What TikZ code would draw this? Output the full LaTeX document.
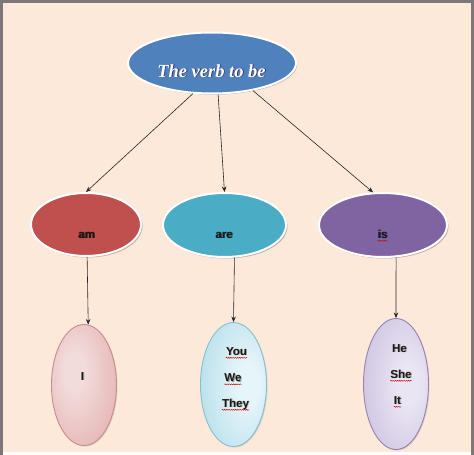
\documentclass[tikz,border=0pt]{standalone}
\usepackage{fontspec}
\setmainfont{Liberation Sans}
\newfontfamily\titlefont{Liberation Serif}
\usetikzlibrary{shapes.geometric,arrows.meta,shadows,decorations.pathmorphing}
\definecolor{bgpeach}{HTML}{FDE9D9}
\definecolor{framegray}{RGB}{125,120,120}
\definecolor{topblue}{HTML}{4F81BD}
\definecolor{amred}{HTML}{C0504D}
\definecolor{arecyan}{HTML}{4BACC6}
\definecolor{ispurple}{HTML}{8064A2}
\definecolor{iin}{HTML}{F2DBDB}
\definecolor{iout}{HTML}{DE9C9C}
\definecolor{iline}{HTML}{C48E8E}
\definecolor{yin}{HTML}{E6F5F9}
\definecolor{yout}{HTML}{98D1E1}
\definecolor{yline}{HTML}{86BFD0}
\definecolor{hin}{HTML}{EAE5F3}
\definecolor{hout}{HTML}{B9ABD4}
\definecolor{hline}{HTML}{9484AF}
\definecolor{titleshadow}{HTML}{3A3358}
\definecolor{wordshadow}{HTML}{9A9A9A}
\pgfdeclareradialshading{shI}{\pgfpoint{-8bp}{6bp}}{color(0bp)=(iin); color(8bp)=(iin); color(52bp)=(iout); color(100bp)=(iout)}
\pgfdeclareradialshading{shYou}{\pgfpoint{12bp}{0bp}}{color(0bp)=(yin); color(8bp)=(yin); color(55bp)=(yout); color(100bp)=(yout)}
\pgfdeclareradialshading{shHe}{\pgfpoint{10bp}{0bp}}{color(0bp)=(hin); color(8bp)=(hin); color(55bp)=(hout); color(100bp)=(hout)}
\newcommand{\shtxt}[2]{\makebox[0pt][l]{\hspace{0.9pt}\raisebox{-0.9pt}{\textcolor{#1}{#2}}}#2}
\begin{document}
\begin{tikzpicture}[x=1pt,y=-1pt,
  topov/.style={ellipse, inner sep=0pt, fill=topblue, draw=white, line width=2pt,
    drop shadow={shadow xshift=1.2pt, shadow yshift=-1.2pt, fill=black, opacity=0.25}},
  midov/.style={ellipse, inner sep=0pt, draw=white, line width=2pt,
    drop shadow={shadow xshift=1.5pt, shadow yshift=-1.5pt, fill=black, opacity=0.25}},
  lowov/.style={ellipse, inner sep=0pt, line width=0.9pt, shade,
    drop shadow={shadow xshift=1pt, shadow yshift=-1pt, fill=black, opacity=0.12}},
  titletext/.style={font=\titlefont\bfseries\itshape\fontsize{18.5}{22}\selectfont, text=white, inner sep=0pt, anchor=base},
  word/.style={font=\bfseries\fontsize{11.5}{13}\selectfont, text=black!90, inner sep=0pt, anchor=base},
  arr/.style={-{Stealth[length=5.5pt,width=4.5pt]}, line width=0.6pt, draw=black!85},
  wavy/.style={draw=red!80!black, line width=0.45pt, decorate,
    decoration={snake, segment length=2.2pt, amplitude=0.5pt}}
]
\useasboundingbox (0,0) rectangle (474,455);
\fill[white] (0,0) rectangle (474,455);
\fill[framegray] (0,0) rectangle (474,452);
\fill[framegray] (0,0) rectangle (2.5,455);
\fill[framegray] (471,0) rectangle (474,455);
\fill[bgpeach] (2.5,2.5) rectangle (471,452);

% top
\node[topov, minimum width=168pt, minimum height=61pt] (top) at (212,63) {};
\node[titletext] (title) at (211.5,77) {\shtxt{titleshadow}{The verb to be}};

% middle
\node[midov, fill=amred, minimum width=110pt, minimum height=63pt] (am) at (86,224.5) {};
\node[midov, fill=arecyan, minimum width=123pt, minimum height=64pt] (are) at (224.5,225) {};
\node[midov, fill=ispurple, minimum width=128pt, minimum height=64pt] (is) at (383,225) {};
\node[word] (wam) at (86.5,238) {\shtxt{black!70!amred}{am}};
\node[word] (ware) at (224,238) {\shtxt{black!60!arecyan}{are}};
\node[word] (wis) at (382.5,238) {\shtxt{black!60!ispurple}{is}};

% bottom
\node[lowov, draw=iline, shading=shI, minimum width=65pt, minimum height=121pt] (ovI) at (84,385) {};
\node[lowov, draw=yline, shading=shYou, minimum width=66pt, minimum height=124pt] (ovYou) at (233.5,384.5) {};
\node[lowov, draw=hline, shading=shHe, minimum width=65pt, minimum height=131pt] (ovHe) at (396,384) {};

\node[word] (wI) at (82.5,380) {\shtxt{wordshadow}{I}};
\node[word] (wYou) at (236.5,355) {\shtxt{wordshadow}{You}};
\node[word] (wWe) at (233,381.5) {\shtxt{wordshadow}{We}};
\node[word] (wThey) at (235.5,407) {\shtxt{wordshadow}{They}};
\node[word] (wHe) at (399.5,352) {\shtxt{wordshadow}{He}};
\node[word] (wShe) at (401,378) {\shtxt{wordshadow}{She}};
\node[word] (wIt) at (397.5,404) {\shtxt{wordshadow}{It}};

% spelling underlines
\foreach \w in {wYou,wWe,wThey,wShe,wIt,wis}
  \draw[wavy] ([yshift=-2.8pt]\w.base west) -- ([yshift=-2.8pt]\w.base east);

% connectors
\draw[arr] (top.238) -- (am.north);
\draw[arr] (top.281) -- (are.north);
\draw[arr] (top.326) -- (is.107);
\draw[arr] (am.272) -- (ovI.86);
\draw[arr] (are.287) -- (ovYou.north);
\draw[arr] (is.292) -- (ovHe.north);
\end{tikzpicture}
\end{document}
